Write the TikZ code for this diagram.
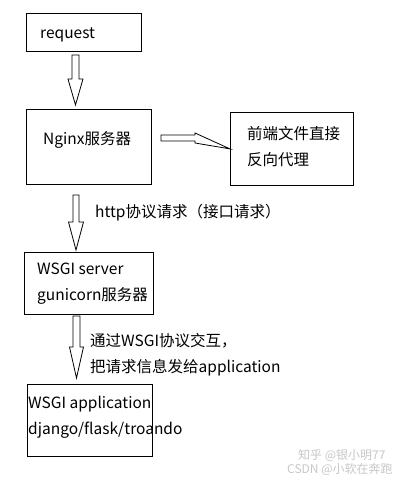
\documentclass[tikz,border=0pt]{standalone}
\usepackage{fontspec}
\usetikzlibrary{calc}
\setmainfont{Noto Sans CJK SC}
\begin{document}
\begin{tikzpicture}[x=1pt,y=-1pt,
  box/.style={draw=black,line width=0.8pt,inner sep=0pt,anchor=north west},
  txt/.style={anchor=west,inner sep=0pt,align=left,font=\fontsize{15.5}{26}\selectfont},
  blockarrow/.style={draw=black,line width=0.8pt,fill=white,line join=miter},
  wm/.style={anchor=west,inner sep=0pt,text=black!22,font=\fontsize{12}{12}\selectfont}]
\useasboundingbox (0,0) rectangle (405,481);
% boxes
\node[box,minimum width=115pt,minimum height=38pt] (req) at (26,13) {};
\node[box,minimum width=125pt,minimum height=75pt] (ngx) at (26,109) {};
\node[box,minimum width=123pt,minimum height=73pt] (fe) at (230,112) {};
\node[box,minimum width=129pt,minimum height=62pt] (wsrv) at (24,252) {};
\node[box,minimum width=125pt,minimum height=72pt] (wapp) at (27,384) {};
% texts
\node[txt] (reqt) at (40,35) {request};
\node[txt] (ngxt) at (43,140) {Nginx服务器};
\node[txt] (fet) at (247,147) {前端文件直接\\反向代理};
\node[txt] (wsrvt) at (37,283.5) {WSGI server\\gunicorn服务器};
\node[txt] (wappt) at (28,417.5) {WSGI application\\django/flask/troando};
\node[txt] (l1) at (95,213) {http协议请求（接口请求）};
\node[txt] (l2) at (90,355) {通过WSGI协议交互，\\把请求信息发给application};
% arrow anchors
\coordinate (a1) at (75.5,55);
\coordinate (a2) at (76,195);
\coordinate (a3) at (76.5,316);
\coordinate (a4) at (161,138);
% block arrows
\draw[blockarrow] (a1) ++(-3.5,0) -- ++(0,24) -- ++(-4,0) -- ($(a1)+(0,50)$)
  -- ($(a1)+(7.5,24)$) -- ++(-4,0) -- ($(a1)+(3.5,0)$) -- cycle;
\draw[blockarrow] (a2) ++(-3,0) -- ++(0,27) -- ++(-4.5,0) -- ($(a2)+(0,55)$)
  -- ($(a2)+(7.5,27)$) -- ++(-4.5,0) -- ($(a2)+(3,0)$) -- cycle;
\draw[blockarrow] (a3) ++(-3.5,0) -- ++(0,31) -- ++(-3.5,0) -- ($(a3)+(0,62)$)
  -- ($(a3)+(7,31)$) -- ++(-3.5,0) -- ($(a3)+(3.5,0)$) -- cycle;
\draw[blockarrow] (a4) ++(0,-3) -- ++(34,0) -- ++(0,-2) -- (fe.west)
  -- ($(a4)+(34,5)$) -- ++(0,-2) -- ($(a4)+(0,3)$) -- cycle;
% watermark
\node[wm] (wm1) at (298,455) {知乎 @银小明77};
\node[wm] (wm2) at (287,469) {CSDN @小软在奔跑};
\end{tikzpicture}
\end{document}
